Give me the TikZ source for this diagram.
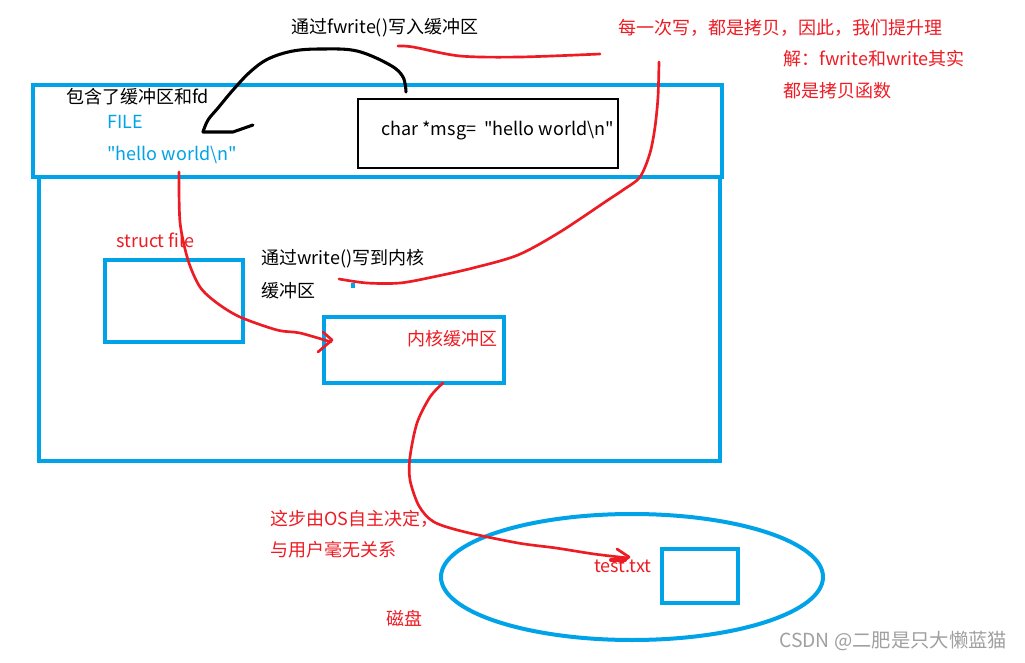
\documentclass[tikz,border=0pt]{standalone}
\usepackage{fontspec}
\setmainfont{Noto Sans CJK SC}[Ligatures=TeXOff]
\usetikzlibrary{shapes.geometric}
\definecolor{paintblue}{RGB}{0,162,232}
\definecolor{paintred}{RGB}{237,28,36}
\definecolor{inkgray}{RGB}{160,160,160}

\begin{document}
\begin{tikzpicture}[x=0.75pt,y=-0.75pt,
    blueframe/.style={draw=paintblue,line width=3.6pt},
    bluebox/.style={draw=paintblue,line width=3.4pt,inner sep=0pt},
    redpen/.style={draw=paintred,line width=2pt,line cap=round,line join=round},
    blackpen/.style={draw=black,line width=2.3pt,line cap=round,line join=round},
    txt/.style={anchor=west,inner sep=0pt,font=\fontsize{13.5pt}{16pt}\selectfont},
    rednote/.style={txt,text=paintred},
    bluenote/.style={txt,text=paintblue}]

      % canvas
      \fill[white] (0,0) rectangle (1025,663);
      \useasboundingbox (0,0) rectangle (1025,663);

      % user space (FILE) and process
      \draw[blueframe] (33,85) rectangle (722,177);
      \draw[blueframe] (39,177) rectangle (720,461);

      % boxes
      \node[draw,line width=0.8pt,minimum width=195pt,minimum height=51.75pt] (msg) at (488,133.5) {};
      \node[bluebox,minimum width=103.5pt,minimum height=61.5pt] (sfile) at (174,301) {};
      \node[bluebox,minimum width=135pt,minimum height=49.5pt] (kbuf) at (414,350) {};
      \node[bluebox,minimum width=57pt,minimum height=40.5pt] (tbox) at (700,576) {};
      \node[draw=paintblue,line width=3pt,ellipse,minimum width=286.5pt,minimum height=94.5pt,
            inner sep=0pt] (disk) at (632,577) {};

      % labels
      \node[txt] (msgtxt) at (381,131) {char *msg= \ "hello world\textbackslash n"};
      \node[txt] (fwrite) at (291,28) {通过fwrite()写入缓冲区};
      \node[rednote] (note1) at (618,28) {每一次写，都是拷贝，因此，我们提升理};
      \node[rednote] (note2) at (783,59) {解：fwrite和write其实};
      \node[rednote] (note3) at (783,91) {都是拷贝函数};
      \node[txt] (incl) at (66,97) {包含了缓冲区和fd};
      \node[bluenote] (FILE) at (107,122) {FILE};
      \node[bluenote] (hello) at (107,155) {"hello world\textbackslash n"};
      \node[rednote] (sfilelbl) at (116,240) {struct file};
      \node[txt] (write1) at (261,259) {通过write()写到内核};
      \node[txt] (write2) at (261,291) {缓冲区};
      \node[rednote] (kbuflbl) at (407,339) {内核缓冲区};
      \node[rednote] (os1) at (270,519) {这步由OS自主决定，};
      \node[rednote] (os2) at (270,550) {与用户毫无关系};
      \node[rednote] (test) at (594,566) {test.txt};
      \node[rednote] (disklbl) at (386,618) {磁盘};
      \node[txt,text=inkgray,font=\fontsize{14.5pt}{17pt}\selectfont] (mark) at (779,641)
        {CSDN @二肥是只大懒蓝猫};

      % fwrite: msg -> FILE
      \coordinate (a0) at (406,92);
      \coordinate (a1) at (203,132);
      \draw[blackpen] plot[smooth,tension=0.6] coordinates
        {(a0) (403,77) (390,65) (357,51) (322,49) (293,51) (268,59) (250,72)
         (233,90) (218,108) (208,120) (a1)};
      \draw[blackpen] (a1) -- (233,132) -- (253,125);

      % red strokes
      \draw[redpen] plot[smooth] coordinates
        {(398,46) (413,47) (460,56) (520,57) (600,54)};
      \draw[redpen] plot[smooth] coordinates
        {(659,62) (658,97) (655,127) (650,153) (640,177) (623,190) (608,200)
         (560,232) (518,255) (473,268) (433,277) (400,283) (367,283) (339,279)};
      \fill[paintblue] (351,283) rectangle (355,288);

      % FILE -> kernel buffer
      \coordinate (b0) at (179,172);
      \coordinate (b1) at (331,342);
      \draw[redpen] plot[smooth] coordinates
        {(b0) (180,222) (188,260) (200,287) (217,303) (240,317) (277,330)
         (300,333) (b1)};
      \draw[redpen] (323,332) -- (332,340) -- (318,352);

      % kernel buffer -> test.txt
      \coordinate (c0) at (443,383);
      \coordinate (c1) at (628,558);
      \draw[redpen] plot[smooth] coordinates
        {(c0) (430,397) (417,423) (410,457) (410,480) (419,506) (434,522)
         (465,532) (518,543) (556,548) (594,554) (c1)};
      \draw[redpen] (617,549) -- (629,557) -- (622,562);
      \draw[redpen,line width=3pt] (611,560) -- (625,560);
    \end{tikzpicture}
\end{document}
